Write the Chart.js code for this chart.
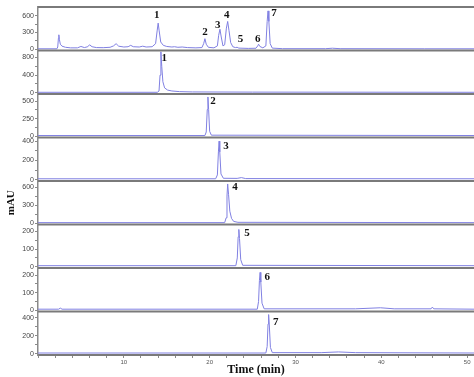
<!DOCTYPE html>
<html>
<head>
<meta charset="utf-8">
<script src="https://cdn.jsdelivr.net/npm/chart.js@4.4.0/dist/chart.umd.min.js"></script>
<style>
  html, body { margin: 0; padding: 0; background: #fff; }
</style>
</head>
<body>
<canvas id="chart" width="474" height="377"></canvas>
<script>
// [time (min), absorbance (mAU)], top panel first
const mixture = [[0,8],[2.2,8],[2.3,40],[2.38,200],[2.43,260],[2.5,170],[2.6,90],[2.8,55],[3.2,35],[3.8,25],[4.6,25],[5.0,50],[5.4,30],[5.8,45],[6.0,80],[6.3,45],[6.8,30],[7.6,28],[8.4,35],[8.8,60],[9.1,100],[9.4,55],[10.0,40],[10.5,45],[10.8,70],[11.1,45],[11.8,40],[12.2,55],[12.6,40],[13.3,45],[13.7,100],[13.88,330],[14.0,470],[14.12,330],[14.3,130],[14.6,70],[15.0,50],[15.6,40],[15.9,45],[16.3,35],[16.8,40],[17.4,30],[18.4,25],[19.1,30],[19.3,100],[19.45,190],[19.6,90],[19.85,35],[20.5,25],[20.9,60],[21.05,250],[21.2,360],[21.35,220],[21.55,60],[21.75,80],[21.95,380],[22.1,500],[22.25,340],[22.45,120],[22.7,45],[23.0,30],[23.2,35],[23.4,20],[24.5,15],[25.4,18],[25.6,60],[25.7,90],[25.85,50],[26.2,25],[26.55,60],[26.7,500],[26.8,690],[26.9,500],[27.05,100],[27.3,20],[28.5,10],[33.5,10],[34.3,18],[35.2,10],[45,8],[50.8,8]];
const std1 = [[0,10],[13.9,10],[14.1,40],[14.22,400],[14.32,930],[14.42,600],[14.55,250],[14.75,110],[15.1,60],[15.6,40],[16.5,25],[18,18],[25,14],[50.8,10]];
const std2 = [[0,10],[19.45,10],[19.6,60],[19.72,380],[19.8,558],[19.88,380],[20.0,70],[20.2,15],[50.8,10]];
const std3 = [[0,10],[20.7,10],[20.9,50],[21.02,290],[21.1,402],[21.18,290],[21.32,60],[21.6,15],[23.2,14],[23.7,22],[24.2,12],[50.8,10]];
const std4 = [[0,10],[21.75,10],[21.92,90],[22.02,450],[22.1,651],[22.2,480],[22.35,200],[22.55,80],[22.8,30],[23.3,15],[50.8,10]];
const std5 = [[0,6],[23.05,6],[23.22,50],[23.32,170],[23.4,212],[23.48,160],[23.62,40],[23.85,8],[50.8,6]];
const std6 = [[0,6],[2.4,6],[2.6,12],[2.8,6],[25.55,6],[25.7,50],[25.8,170],[25.88,215],[25.96,160],[26.1,40],[26.35,8],[37,8],[39.9,14],[41.5,8],[45.8,8],[45.95,18],[46.1,8],[50.8,6]];
const std7 = [[0,8],[26.55,8],[26.7,80],[26.8,330],[26.87,436],[26.95,320],[27.08,70],[27.3,12],[33,12],[35,20],[37,12],[50.8,8]];

const traces = [mixture, std1, std2, std3, std4, std5, std6, std7];

// y range, tick marks and labelled ticks of each panel
const panelMax = [760, 960, 600, 440, 700, 240, 240, 470];
const panelTicks = [
  [0,150,300,450,600], [0,200,400,600,800], [0,125,250,375,500], [0,100,200,300,400],
  [0,150,300,450,600], [0,50,100,150,200], [0,50,100,150,200], [0,100,200,300,400]
];
const panelLabels = [
  [0,300,600], [0,400,800], [0,250,500], [0,200,400],
  [0,300,600], [0,100,200], [0,100,200], [0,200,400]
];

// x axis
const xTicks = [0,2,4,6,8,10,12,14,16,18,20,22,24,26,28,30,32,34,36,38,40,42,44,46,48,50];
const xLabels = [10,20,30,40,50];

// peak numbers: panel, time, height
const peakLabels = [
  [0,13.85,620,'1'],[0,19.45,300,'2'],[0,20.93,440,'3'],[0,22.0,620,'4'],
  [0,23.6,180,'5'],[0,25.6,180,'6'],[0,27.5,650,'7'],
  [1,14.7,780,'1'],[2,20.4,500,'2'],[3,21.9,355,'3'],[4,22.95,600,'4'],
  [5,24.35,190,'5'],[6,26.7,190,'6'],[7,27.7,355,'7']
];

const lineColor = 'rgb(128,128,226)';
const axisColor = '#8a8a8a';
const ruleColor = '#7a7a7a';

const datasets = traces.map((tr, i) => ({
  data: tr.map(p => ({ x: p[0], y: p[1] })),
  yAxisID: 'y' + i,
  borderColor: lineColor,
  borderWidth: 1,
  pointRadius: 0,
  tension: 0
}));

const scales = {
  x: {
    type: 'linear',
    min: 0,
    max: 50.8,
    position: 'bottom',
    afterBuildTicks: s => { s.ticks = xTicks.map(v => ({ value: v })); },
    afterFit: s => { s.height = 22; },
    ticks: {
      callback: v => xLabels.includes(v) ? v : '',
      autoSkip: false, maxRotation: 0, padding: 1,
      font: { family: 'Liberation Sans', size: 6 }, color: '#555'
    },
    grid: { drawOnChartArea: false, tickLength: 3, color: axisColor },
    border: { color: ruleColor, width: 2 },
    title: {
      display: true, text: 'Time (min)', color: '#111', padding: 0,
      font: { family: 'Liberation Serif', weight: 'bold', size: 12 }
    }
  }
};

// stacked axes are laid out bottom-up, so add the lowest panel first
for (let i = panelMax.length - 1; i >= 0; i--) {
  const mx = panelMax[i];
  scales['y' + i] = {
    type: 'linear',
    position: 'left',
    stack: 'panels',
    stackWeight: 1,
    min: -0.03 * mx,
    max: mx,
    afterBuildTicks: s => { s.ticks = panelTicks[i].map(v => ({ value: v })); },
    afterFit: s => { s.width = 38; },
    ticks: {
      callback: v => panelLabels[i].includes(v) ? v : '',
      autoSkip: false, padding: 1,
      font: { family: 'Liberation Sans', size: 7 }, color: '#444'
    },
    grid: { drawOnChartArea: false, tickLength: 3, color: axisColor },
    border: { color: axisColor, width: 1.5 },
    title: {
      display: i === 4, text: 'mAU', color: '#111', padding: { top: 5, bottom: 0 },
      font: { family: 'Liberation Serif', weight: 'bold', size: 11 }
    }
  };
}

// dark rules between the stacked panels
const panelRules = {
  id: 'panelRules',
  afterDatasetsDraw(chart) {
    const { ctx, chartArea: { left, right, top, bottom } } = chart;
    ctx.save();
    ctx.strokeStyle = ruleColor;
    ctx.lineWidth = 2;
    ctx.beginPath();
    ctx.moveTo(left, top);
    ctx.lineTo(right, top);
    panelMax.forEach((mx, i) => {
      const s = chart.scales['y' + i];
      if (s.bottom < bottom - 1) {
        ctx.moveTo(left, s.bottom);
        ctx.lineTo(right, s.bottom);
      }
    });
    ctx.stroke();
    ctx.restore();
  }
};

const peakNumbers = {
  id: 'peakNumbers',
  afterDatasetsDraw(chart) {
    const { ctx, scales: { x } } = chart;
    ctx.save();
    ctx.font = 'bold 11px "Liberation Serif"';
    ctx.fillStyle = '#111';
    ctx.textAlign = 'center';
    ctx.textBaseline = 'middle';
    peakLabels.forEach(([p, t, v, txt]) => {
      const y = chart.scales['y' + p];
      ctx.fillText(txt, x.getPixelForValue(t), y.getPixelForValue(v));
    });
    ctx.restore();
  }
};

new Chart(document.getElementById('chart'), {
  type: 'line',
  data: { datasets },
  options: {
    responsive: false,
    animation: false,
    devicePixelRatio: 1,
    layout: { padding: { top: 7, right: 0, bottom: 0, left: 0 } },
    plugins: { legend: { display: false }, tooltip: { enabled: false } },
    scales
  },
  plugins: [panelRules, peakNumbers]
});
</script>
</body>
</html>
